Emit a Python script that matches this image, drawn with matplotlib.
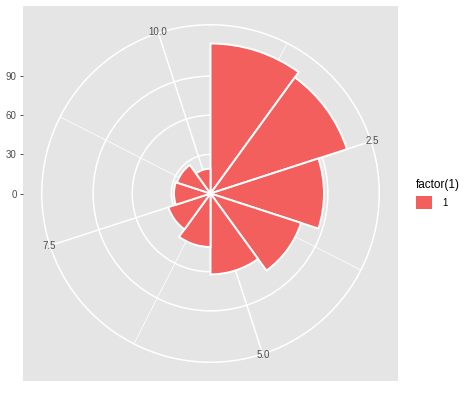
import numpy as np
import matplotlib
matplotlib.use('Agg')
import matplotlib.pyplot as plt
from matplotlib.patches import Patch

# data (bar x positions and heights)
x = [1, 2, 3, 4, 5, 6, 7, 8, 9, 10]
y = [115, 110, 87, 73, 62, 41, 34, 28, 27, 19]
theta_breaks = [2.5, 5.0, 7.5, 10.0]
theta_minor = [1.25, 3.75, 6.25, 8.75]
r_breaks = [0, 30, 60, 90]
legend_title = 'factor(1)'
legend_label = '1'

fill = '#F25F5C'
panel_bg = '#E5E5E5'
txt = '#4D4D4D'

plt.rcParams['font.family'] = ['Liberation Sans', 'DejaVu Sans']

# ggplot coord_polar: theta spans [min-0.5, max+0.5], r spans [0, max] -> [0, 0.4]
xmin, xmax = min(x) - 0.5, max(x) + 0.5
rmax = max(y)
def to_theta(v):
    return (np.asarray(v, dtype=float) - xmin) / (xmax - xmin) * 2 * np.pi

fig = plt.figure(figsize=(4.74, 3.95), dpi=100)
W, H = 474, 395
# panel in pixels
pl, pr, pt, pb = 23, 398, 6, 381
pw, ph = pr - pl, pb - pt

bg = fig.add_axes([pl / W, 1 - pb / H, pw / W, ph / H])
bg.set_facecolor(panel_bg)
R = rmax * 0.5 / 0.4
bg.set_xlim(-R, R)
bg.set_ylim(-R, R)
bg.set_xticks([])
bg.set_yticks(r_breaks)
bg.set_yticklabels([str(v) for v in r_breaks], fontsize=7, color=txt)
bg.tick_params(axis='y', length=2.5, width=0.6, color='#333333', pad=2)
for s in bg.spines.values():
    s.set_visible(False)

# polar axes covering radius 0.45 of the panel
cx, cy = pl + pw / 2, pt + ph / 2
rad = 0.45 * pw
ax = fig.add_axes([(cx - rad) / W, 1 - (cy + rad) / H, 2 * rad / W, 2 * rad / H],
                  projection='polar')
ax.patch.set_alpha(0)
ax.set_theta_offset(np.pi / 2)
ax.set_theta_direction(-1)
ax.set_ylim(0, rmax * 0.45 / 0.4)
ax.set_axisbelow(True)

ax.bar(to_theta(x), y, width=2 * np.pi / (xmax - xmin), color=fill,
       edgecolor='white', linewidth=1.4, zorder=3)

ax.set_xticks(to_theta(theta_breaks))
ax.set_xticks(to_theta(theta_minor), minor=True)
ax.set_xticklabels([])
ax.set_yticks(r_breaks)
ax.set_yticklabels([])
ax.tick_params(length=0, which='both')
ax.grid(which='major', color='white', linewidth=1.1)
ax.grid(which='minor', axis='x', color='white', linewidth=0.55)
ax.spines['polar'].set_color('white')
ax.spines['polar'].set_linewidth(1.1)

for b in theta_breaks:
    ax.text(to_theta(b), rmax * 0.453 / 0.4, '%.1f' % b, ha='center', va='center',
            fontsize=7, color=txt, clip_on=False)

# legend
fig.legend(handles=[Patch(facecolor=fill, edgecolor='none')], labels=[legend_label],
           title=legend_title, loc='center left', bbox_to_anchor=(407 / W, 1 - 194 / H),
           frameon=False, fontsize=7, title_fontsize=8.5, handlelength=1.7,
           handleheight=1.6, handletextpad=1.0, alignment='left')

fig.savefig('out.png', dpi=100)
